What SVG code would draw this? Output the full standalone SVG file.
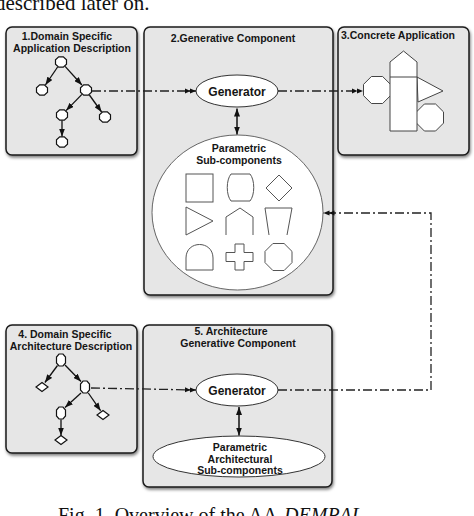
<svg xmlns="http://www.w3.org/2000/svg" xmlns:xlink="http://www.w3.org/1999/xlink" width="474" height="516" viewBox="0 0 474 516">
<defs>
<style>
.box{fill:#e6e6e6;stroke:#1a1a1a;stroke-width:1.5;filter:url(#sh)}
.t{font-family:"Liberation Sans",Arial,sans-serif;font-weight:bold;font-size:10.5px;fill:#151515;text-anchor:middle}
.g{font-size:12px}
.page{font-family:"Liberation Serif","Times New Roman",serif;fill:#111}
.ell{fill:#fff;stroke:#333;stroke-width:1}
.sub{fill:none;stroke:#555;stroke-width:1}
.app{fill:#fff;stroke:#444;stroke-width:1}
.node{fill:#fff;stroke:#111;stroke-width:1.2}
.ta{fill:none;stroke:#111;stroke-width:1.3;marker-end:url(#ah)}
.dd{fill:none;stroke:#222;stroke-width:1.3;stroke-dasharray:9 3 2 3;marker-end:url(#dah)}
.va{fill:none;stroke:#111;stroke-width:1.5;marker-end:url(#ah);marker-start:url(#ahs)}
</style>
<filter id="sh" x="-10%" y="-10%" width="120%" height="125%">
<feDropShadow dx="1" dy="2" stdDeviation="1.5" flood-color="#000" flood-opacity="0.5"/>
</filter>
<marker id="ah" viewBox="0 0 8 6" refX="8" refY="3" markerWidth="8" markerHeight="6" markerUnits="userSpaceOnUse" orient="auto"><path d="M0,0 L8,3 L0,6 Z" fill="#111"/></marker>
<marker id="ahs" viewBox="0 0 8 6" refX="8" refY="3" markerWidth="8" markerHeight="6" markerUnits="userSpaceOnUse" orient="auto-start-reverse"><path d="M0,0 L8,3 L0,6 Z" fill="#111"/></marker>
<marker id="dah" viewBox="0 0 11 6" refX="11" refY="3" markerWidth="11" markerHeight="6" markerUnits="userSpaceOnUse" orient="auto"><path d="M0,0.5 L5.5,3 L0,5.5 Z M5,0.5 L11,3 L5,5.5 Z" fill="#111"/></marker>
<polygon id="oct" class="node" points="-2.3,-5.2 2.3,-5.2 5.5,-2.2 5.5,2.2 2.3,5.2 -2.3,5.2 -5.5,2.2 -5.5,-2.2"/>
<polygon id="hex" class="node" points="-2,-6 2,-6 4.5,-3 4.5,3 2,6 -2,6 -4.5,3 -4.5,-3"/>
<polygon id="dia" class="node" points="0,-4.5 6,0 0,4.5 -6,0"/>
</defs>

<text class="page" x="-5" y="10" font-size="21">described later on.</text>
<text class="page" x="58" y="522" font-size="20">Fig. 1. Overview of the AA-<tspan font-style="italic">DEMRAL</tspan></text>

<g id="box1">
<rect class="box" x="6" y="27" width="131" height="128" rx="6"/>
<text class="t" x="67" y="39.5">1.Domain Specific</text>
<text class="t" x="72" y="51.5">Application Description</text>
<use xlink:href="#oct" x="61" y="62"/>
<use xlink:href="#oct" x="42" y="90"/>
<use xlink:href="#oct" x="86" y="90"/>
<use xlink:href="#oct" x="62" y="115"/>
<use xlink:href="#oct" x="105" y="117"/>
<use xlink:href="#oct" x="62" y="142"/>
<path class="ta" d="M57.6,67 L45.4,85"/>
<path class="ta" d="M65.1,66.4 L81.9,85"/>
<path class="ta" d="M81.9,94.4 L66.1,110.6"/>
<path class="ta" d="M89.4,95 L101.6,112"/>
<path class="ta" d="M62,120.5 L62,136.5"/>
</g>

<g id="box2">
<rect class="box" x="144" y="27" width="189" height="268" rx="6"/>
<text class="t" x="233" y="42">2.Generative Component</text>
<g id="generator1">
<ellipse class="ell" cx="237" cy="91" rx="41" ry="16"/>
<text class="t g" x="237" y="95.5">Generator</text>
</g>
<g id="subcomponents1">
<ellipse class="ell" cx="237.5" cy="212.5" rx="85.5" ry="77.5" style="stroke:#555;stroke-width:0.9"/>
<text class="t" x="239" y="152">Parametric</text>
<text class="t" x="239" y="164">Sub-components</text>
<rect class="sub" x="186" y="174" width="27" height="28"/>
<path class="sub" d="M231,174 H250 C255,180 255,195 250,201 H231 C226,195 226,180 231,174 Z"/>
<polygon class="sub" points="279,175 292,188 279,201 266,188"/>
<polygon class="sub" points="186,207 213,221 186,235"/>
<path class="sub" d="M226,235 V217 L240,208 L253,217 V235"/>
<path class="sub" d="M269,235 L265,208 H292 L287,235"/>
<path class="sub" d="M186,270 V258 C186,240 213,240 213,258 V270 Z"/>
<path class="sub" d="M235,244 H244 V252.5 H253 V261.5 H244 V270 H235 V261.5 H226 V252.5 H235 Z"/>
<polygon class="sub" points="272.9,243.5 284.1,243.5 292,251.4 292,262.6 284.1,270.5 272.9,270.5 265,262.6 265,251.4"/>
</g>
</g>

<g id="box3">
<rect class="box" x="338" y="27" width="131" height="128" rx="6"/>
<text class="t" x="398" y="39">3.Concrete Application</text>
<polygon class="app" points="417,77 443,91 418,102"/>
<polygon class="app" points="424.4,104 435.6,104 443.5,111.9 443.5,123.1 435.6,131 424.4,131 416.5,123.1 416.5,111.9"/>
<polygon class="app" points="371.4,76.5 382.6,76.5 390.5,84.4 390.5,95.6 382.6,103.5 371.4,103.5 363.5,95.6 363.5,84.4"/>
<path class="app" d="M390,131 V62 L403.5,51 L417,62 V131 Z M390,77 H417"/>
</g>

<g id="box4">
<rect class="box" x="6" y="325" width="131" height="128" rx="6"/>
<text class="t" x="65" y="338">4. Domain Specific</text>
<text class="t" x="71" y="350">Architecture Description</text>
<use xlink:href="#hex" x="61" y="360"/>
<use xlink:href="#dia" x="42" y="387"/>
<use xlink:href="#hex" x="85" y="387"/>
<use xlink:href="#hex" x="61" y="413"/>
<use xlink:href="#dia" x="103" y="415"/>
<use xlink:href="#dia" x="61" y="440"/>
<path class="ta" d="M57.5,365.5 L44.9,382.5"/>
<path class="ta" d="M65,365 L81,381.5"/>
<path class="ta" d="M81,393 L65,407.5"/>
<path class="ta" d="M88.3,393 L100.6,410.7"/>
<path class="ta" d="M61,419.5 L61,435.5"/>
</g>

<g id="box5">
<rect class="box" x="143" y="325" width="189" height="162" rx="6"/>
<text class="t" x="231" y="335">5. Architecture</text>
<text class="t" x="238" y="347">Generative Component</text>
<g id="generator2">
<ellipse class="ell" cx="237" cy="390" rx="41" ry="16"/>
<text class="t g" x="237" y="394.5">Generator</text>
</g>
<g id="subcomponents2">
<ellipse class="ell" cx="239" cy="456.5" rx="86" ry="20.5"/>
<text class="t" x="240" y="451">Parametric</text>
<text class="t" x="240" y="462.5">Architectural</text>
<text class="t" x="240" y="474">Sub-components</text>
</g>
</g>

<g id="connectors">
<path class="dd" d="M92,91 H196"/>
<path class="dd" d="M278,91 H363"/>
<path class="dd" d="M91,388 L196,390"/>
<path class="dd" d="M278,390 H431 V213 H323.5"/>
<path class="va" d="M237,108.5 V134.5"/>
<path class="va" d="M239,407 V435.5"/>
</g>
</svg>
